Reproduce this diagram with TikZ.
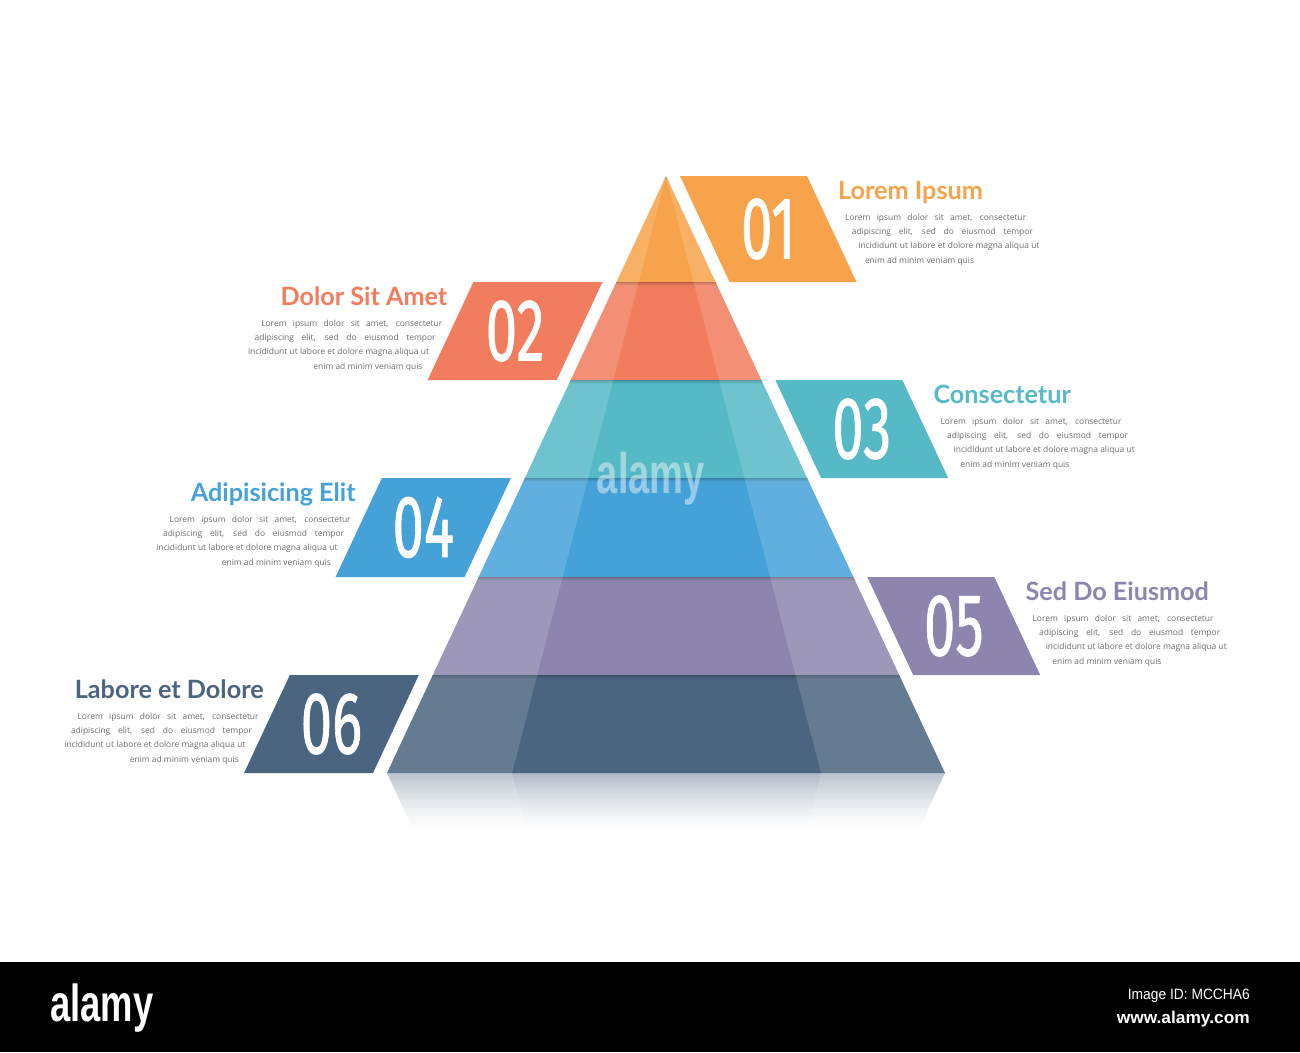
\documentclass[tikz,border=0pt]{standalone}
\usepackage{fontspec}
\setmainfont{Open Sans}
\newfontfamily\titlefont{Lato}
\newfontfamily\numfont[FakeBold=1.1]{Fira Sans}
\newfontfamily\markfont{Liberation Sans}
\definecolor{cA}{HTML}{F7A34B}
\definecolor{cB}{HTML}{F27C5E}
\definecolor{cC}{HTML}{55B9C6}
\definecolor{cD}{HTML}{45A2D9}
\definecolor{cE}{HTML}{8D85AE}
\definecolor{cF}{HTML}{4B6480}
\definecolor{bodygray}{HTML}{6E6E6E}
\definecolor{reflside}{HTML}{BAC3CE}
\definecolor{reflmid}{HTML}{AEB8C5}
\newcommand\LoremA{Lorem ipsum dolor sit amet, consectetur}
\newcommand\LoremB{adipiscing elit, sed do eiusmod tempor}
\newcommand\LoremC{incididunt ut labore et dolore magna aliqua ut}
\newcommand\LoremD{enim ad minim veniam quis}
\tikzset{
  numtxt/.style={text=white,inner sep=0pt,font=\numfont\fontsize{88}{88}\selectfont},
  ttltxt/.style={inner sep=0pt,font=\titlefont\bfseries\fontsize{25.2}{27}\selectfont},
  bodytxt/.style={inner sep=0pt,text=bodygray,font=\fontsize{8.44}{10}\selectfont},
  marktxt/.style={inner sep=0pt,text=white}
}
\begin{document}
\begin{tikzpicture}[x=1pt,y=-1pt]
\useasboundingbox (0,0) rectangle (1300,1052);
\fill[white] (0,0) rectangle (1300,1052);

% reflection under the base, built from thin fading strips
\foreach \k in {0,...,29}{
  \pgfmathsetmacro\ya{773+2*\k}
  \pgfmathsetmacro\yb{\ya+2.6}
  \pgfmathsetmacro\p{100*(1-(\k+0.5)/30)^1.5}
  \pgfmathsetmacro\sla{387+0.4673*(\ya-773)}
  \pgfmathsetmacro\slb{387+0.4673*(\yb-773)}
  \pgfmathsetmacro\sra{945-0.4673*(\ya-773)}
  \pgfmathsetmacro\srb{945-0.4673*(\yb-773)}
  \pgfmathsetmacro\mla{512+0.2596*(\ya-773)}
  \pgfmathsetmacro\mlb{512+0.2596*(\yb-773)}
  \pgfmathsetmacro\mra{821-0.2596*(\ya-773)}
  \pgfmathsetmacro\mrb{821-0.2596*(\yb-773)}
  \fill[reflside!\p!white] (\sla,\ya) -- (\sra,\ya) -- (\srb,\yb) -- (\slb,\yb) -- cycle;
  \fill[reflmid!\p!white] (\mla,\ya) -- (\mra,\ya) -- (\mrb,\yb) -- (\mlb,\yb) -- cycle;
}

% pyramid layers
\foreach \ya/\yb/\col in {176/282/cA,282/380/cB,380/478/cC,478/577/cD,577/675/cE,675/773/cF}{
  \pgfmathsetmacro\la{666-0.4673*(\ya-176)}
  \pgfmathsetmacro\ra{666+0.4673*(\ya-176)}
  \pgfmathsetmacro\lb{666-0.4673*(\yb-176)}
  \pgfmathsetmacro\rb{666+0.4673*(\yb-176)}
  \fill[\col] (\la,\ya) -- (\ra,\ya) -- (\rb,\yb) -- (\lb,\yb) -- cycle;
  \begin{scope}
    \clip (\la,\ya) -- (\ra,\ya) -- (\rb,\yb) -- (\lb,\yb) -- cycle;
    \foreach \d/\o in {0.5/0.24,1.5/0.15,2.5/0.09,3.5/0.04}{
      \draw[black,opacity=\o,line width=1pt] (300,\ya+\d) -- (1000,\ya+\d);
    }
  \end{scope}
}

% light side facets
\coordinate (apex) at (666,176);
\coordinate (bl) at (387,773);
\coordinate (bil) at (512,773);
\coordinate (bir) at (821,773);
\coordinate (br) at (945,773);
\fill[white,opacity=0.15] (apex) -- (bl) -- (bil) -- cycle;
\fill[white,opacity=0.15] (apex) -- (bir) -- (br) -- cycle;

% right labels
\foreach \ya/\yb/\col/\numtext/\ttltext/\idx in {176/282/cA/01/Lorem Ipsum/1,380/478/cC/03/Consectetur/3,577/675/cE/05/Sed Do Eiusmod/5}{
  \pgfmathsetmacro\xa{666+0.4673*(\ya-176)+14}
  \pgfmathsetmacro\xb{\xa+127}
  \pgfmathsetmacro\xc{666+0.4673*(\yb-176)+14}
  \pgfmathsetmacro\xd{\xc+127}
  \pgfmathsetmacro\xm{(\xa+\xb+\xc+\xd)/4}
  \pgfmathsetmacro\ym{(\ya+\yb)/2}
  \fill[\col] (\xa,\ya) -- (\xb,\ya) -- (\xd,\yb) -- (\xc,\yb) -- cycle;
  \node[numtxt] (num\idx) at (\xm,\ym) {\scalebox{0.64}[1]{\numtext}};
  \node[ttltxt,text=\col,anchor=base west] (ttl\idx) at (\xb+31,\ya+23.5) {\ttltext};
  \node[bodytxt,anchor=base west] (bA\idx) at (\xb+38,\ya+44.5) {\makebox[181pt][s]{\LoremA}};
  \node[bodytxt,anchor=base west] (bB\idx) at (\xb+44.6,\ya+58.7) {\makebox[181pt][s]{\LoremB}};
  \node[bodytxt,anchor=base west] (bC\idx) at (\xb+51.2,\ya+72.9) {\makebox[181pt][s]{\LoremC}};
  \node[bodytxt,anchor=base west] (bD\idx) at (\xb+57.8,\ya+87.1) {\LoremD};
}

% left labels
\foreach \ya/\yb/\col/\numtext/\ttltext/\idx in {282/380/cB/02/Dolor Sit Amet/2,478/577/cD/04/Adipisicing Elit/4,675/773/cF/06/Labore et Dolore/6}{
  \pgfmathsetmacro\xb{666-0.4673*(\ya-176)-14}
  \pgfmathsetmacro\xa{\xb-129}
  \pgfmathsetmacro\xd{666-0.4673*(\yb-176)-14}
  \pgfmathsetmacro\xc{\xd-129}
  \pgfmathsetmacro\xm{(\xa+\xb+\xc+\xd)/4}
  \pgfmathsetmacro\ym{(\ya+\yb)/2}
  \fill[\col] (\xa,\ya) -- (\xb,\ya) -- (\xd,\yb) -- (\xc,\yb) -- cycle;
  \node[numtxt] (num\idx) at (\xm,\ym) {\scalebox{0.64}[1]{\numtext}};
  \node[ttltxt,text=\col,anchor=base east] (ttl\idx) at (\xa-26,\ya+23.5) {\ttltext};
  \node[bodytxt,anchor=base east] (bA\idx) at (\xa-31,\ya+44.5) {\makebox[181pt][s]{\LoremA}};
  \node[bodytxt,anchor=base east] (bB\idx) at (\xa-37.6,\ya+58.7) {\makebox[181pt][s]{\LoremB}};
  \node[bodytxt,anchor=base east] (bC\idx) at (\xa-44.2,\ya+72.9) {\makebox[181pt][s]{\LoremC}};
  \node[bodytxt,anchor=base east] (bD\idx) at (\xa-50.8,\ya+87.1) {\LoremD};
}

% watermark
\node[marktxt,text opacity=0.45,anchor=base,font=\markfont\bfseries\fontsize{57}{57}\selectfont] (wm) at (651,493) {\scalebox{0.67}[1]{alamy}};

% bottom bar
\fill[black] (0,962) rectangle (1300,1052);
\node[marktxt,anchor=base west,font=\markfont\bfseries\fontsize{52}{52}\selectfont] (logo) at (50,1021) {\scalebox{0.7}[1]{alamy}};
\node[marktxt,anchor=base east,font=\markfont\fontsize{15}{15}\selectfont] (imgid) at (1250,999) {\scalebox{0.92}[1]{Image ID: MCCHA6}};
\node[marktxt,anchor=base east,font=\markfont\bfseries\fontsize{17}{17}\selectfont] (www) at (1250,1023) {\scalebox{1.02}[1]{www.alamy.com}};
\end{tikzpicture}
\end{document}
